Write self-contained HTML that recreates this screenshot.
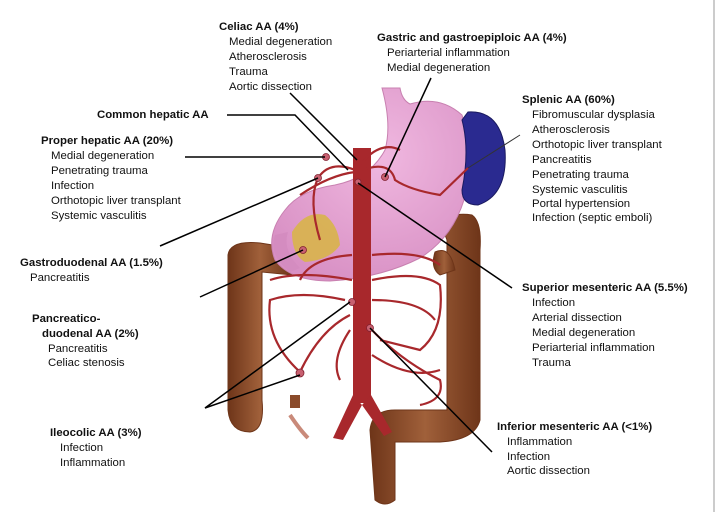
<!DOCTYPE html>
<html><head><meta charset="utf-8"><style>
html,body{margin:0;padding:0;background:#fff}
svg{display:block}
text{font-family:"Liberation Sans",sans-serif;font-size:11.4px;fill:#111}
.b{font-weight:bold}
</style></head><body>
<svg width="715" height="512" viewBox="0 0 715 512" xmlns="http://www.w3.org/2000/svg">
<defs>
<linearGradient id="cg" x1="0" x2="1" y1="0" y2="0">
<stop offset="0" stop-color="#6e3519"/><stop offset="0.5" stop-color="#a0603a"/><stop offset="1" stop-color="#6e3519"/>
</linearGradient>
<radialGradient id="sg" cx="0.55" cy="0.35" r="0.7">
<stop offset="0" stop-color="#f0b8e0"/><stop offset="1" stop-color="#d890c4"/>
</radialGradient>
</defs>
<rect x="0" y="0" width="715" height="512" fill="#fff"/>
<line x1="714" y1="0" x2="714" y2="512" stroke="#999" stroke-width="1"/>
<!-- colon -->
<g fill="url(#cg)" stroke="#6e3519" stroke-width="1">
<path d="M228,255 Q230,240 260,243 L292,248 L292,275 L262,272 L262,400 Q265,430 250,432 Q230,432 228,410 Z"/>
<path d="M440,222 Q452,212 472,215 Q482,222 480,250 L480,420 Q475,440 440,442 L395,442 L395,500 Q385,508 375,500 L370,430 Q372,410 395,410 L447,410 L447,240 Z"/>
<path d="M435,252 Q450,245 455,270 L440,275 Q430,268 435,252 Z"/>
</g>
<path d="M290,395 L300,395 L300,408 L290,408 Z" fill="#8a4a2a"/>
<path d="M290,415 Q300,430 308,438" stroke="#c98a7a" stroke-width="4" fill="none"/>
<!-- stomach -->
<path d="M382,88 L400,88 Q402,100 410,104 Q440,95 462,115 Q474,150 464,200 Q452,238 420,258 Q380,278 330,281 Q290,281 275,260 Q265,235 285,210 Q300,190 335,185 Q370,178 385,150 Q392,125 382,88 Z" fill="url(#sg)" stroke="#c880b0" stroke-width="1"/>
<path d="M275,235 Q268,255 290,272 L300,268 Q282,250 288,232 Z" fill="#d48cc0"/>
<!-- pancreas -->
<path d="M292,232 Q305,210 325,215 Q338,225 340,245 Q330,260 305,262 Q292,255 292,232 Z" fill="#d8b44a" opacity="0.9"/>
<!-- spleen -->
<path d="M468,112 Q500,110 505,150 Q508,195 478,205 Q462,205 462,190 Q470,150 462,120 Z" fill="#2a2a90" stroke="#1a1a60"/>
<!-- aorta & vessels -->
<g fill="#a8282c">
<rect x="353" y="148" width="18" height="255"/>
<path d="M353,395 L333,438 L343,440 L362,405 Z"/>
<path d="M371,395 L392,432 L384,436 L362,405 Z"/>
</g>
<g stroke="#a8282c" stroke-width="2.2" fill="none">
<path d="M355,170 Q330,160 318,178 Q308,200 320,240"/>
<path d="M362,170 Q390,160 395,180 Q410,190 440,195 L468,168"/>
<path d="M360,165 Q380,140 400,150"/>
<path d="M355,172 Q330,175 300,195"/>
<path d="M345,300 Q300,290 270,300 Q265,340 300,372"/>
<path d="M352,280 Q300,270 270,280"/>
<path d="M372,280 Q420,270 440,285 Q445,330 420,350 L380,340"/>
<path d="M372,300 Q420,300 435,320"/>
<path d="M370,328 Q400,360 440,380 Q445,400 420,405"/>
<path d="M372,355 Q410,380 440,370"/>
<path d="M350,315 Q320,330 300,372"/>
<path d="M350,330 Q330,360 340,380"/>
<path d="M352,255 Q310,258 300,280"/>
<path d="M372,255 Q420,250 440,265"/>
</g>
<g fill="#c86070" stroke="#802030" stroke-width="0.8">
<circle cx="300" cy="373" r="4"/><circle cx="352" cy="302" r="3.5"/><circle cx="370" cy="328" r="3.5"/>
<circle cx="318" cy="178" r="3.5"/><circle cx="385" cy="177" r="3.5"/><circle cx="303" cy="250" r="3.5"/>
<circle cx="326" cy="157" r="3.5"/><circle cx="358" cy="182" r="3"/>
</g>
<!-- leader lines -->
<g stroke="#000" stroke-width="1.5" fill="none">
<line x1="290" y1="93" x2="357" y2="160"/>
<polyline points="227,115 295,115 348,170"/>
<line x1="431" y1="78" x2="385" y2="177"/>
<line x1="185" y1="157" x2="325" y2="157"/>
<line x1="160" y1="246" x2="318" y2="178"/>
<line x1="358" y1="183" x2="512" y2="288"/>
<line x1="468" y1="168" x2="520" y2="135" stroke="#333" stroke-width="1"/>
<line x1="200" y1="297" x2="303" y2="250"/>
<polyline points="300,375 205,408 350,302"/>
<line x1="370" y1="328" x2="492" y2="452"/>
</g>
<!-- labels -->
<text x="219" y="30" class="b">Celiac AA (4%)</text>
<text x="229" y="45">Medial degeneration</text><text x="229" y="60">Atherosclerosis</text><text x="229" y="75">Trauma</text><text x="229" y="90">Aortic dissection</text>
<text x="377" y="41" class="b">Gastric and gastroepiploic AA (4%)</text>
<text x="387" y="56">Periarterial inflammation</text><text x="387" y="71">Medial degeneration</text>
<text x="97" y="118" class="b">Common hepatic AA</text>
<text x="41" y="144" class="b">Proper hepatic AA (20%)</text>
<text x="51" y="159">Medial degeneration</text><text x="51" y="174">Penetrating trauma</text><text x="51" y="189">Infection</text><text x="51" y="204">Orthotopic liver transplant</text><text x="51" y="219">Systemic vasculitis</text>
<text x="522" y="103" class="b">Splenic AA (60%)</text>
<text x="532" y="118">Fibromuscular dysplasia</text><text x="532" y="133">Atherosclerosis</text><text x="532" y="148">Orthotopic liver transplant</text><text x="532" y="163">Pancreatitis</text><text x="532" y="178">Penetrating trauma</text><text x="532" y="193">Systemic vasculitis</text><text x="532" y="207">Portal hypertension</text><text x="532" y="221">Infection (septic emboli)</text>
<text x="20" y="266" class="b">Gastroduodenal AA (1.5%)</text>
<text x="30" y="281">Pancreatitis</text>
<text x="32" y="322" class="b">Pancreatico-</text>
<text x="42" y="337" class="b">duodenal AA (2%)</text>
<text x="48" y="352">Pancreatitis</text><text x="48" y="366">Celiac stenosis</text>
<text x="522" y="291" class="b">Superior mesenteric AA (5.5%)</text>
<text x="532" y="306">Infection</text><text x="532" y="321">Arterial dissection</text><text x="532" y="336">Medial degeneration</text><text x="532" y="351">Periarterial inflammation</text><text x="532" y="366">Trauma</text>
<text x="50" y="436" class="b">Ileocolic AA (3%)</text>
<text x="60" y="451">Infection</text><text x="60" y="466">Inflammation</text>
<text x="497" y="430" class="b">Inferior mesenteric AA (&lt;1%)</text>
<text x="507" y="445">Inflammation</text><text x="507" y="460">Infection</text><text x="507" y="474">Aortic dissection</text>
</svg>
</body></html>
